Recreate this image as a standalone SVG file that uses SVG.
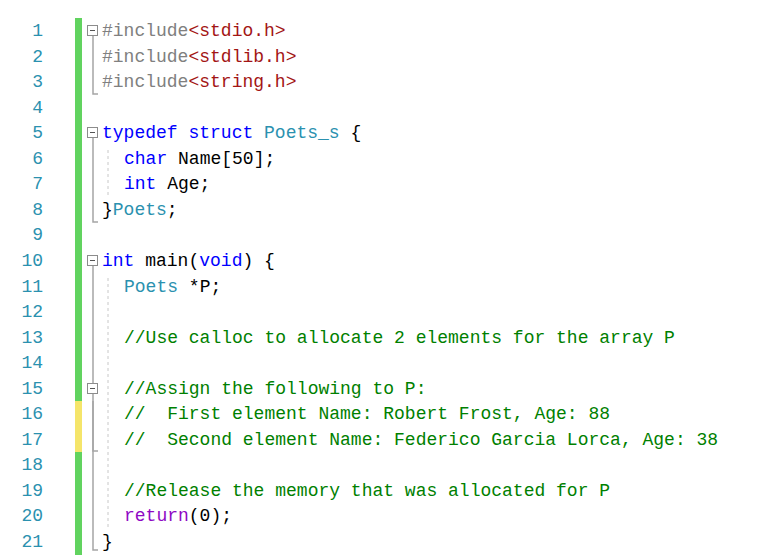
<svg xmlns="http://www.w3.org/2000/svg" width="772" height="555" viewBox="0 0 772 555">
<style>
text{font-family:"Liberation Mono","DejaVu Sans Mono",monospace;font-size:18px;white-space:pre}
.n{fill:#2b91af;text-anchor:end}
.p{fill:#808080}.s{fill:#a31515}.k{fill:#0000ff}.t{fill:#2b91af}.c{fill:#008000}.r{fill:#8f08c4}.x{fill:#000}
.g{stroke:#a5a5a5;stroke-width:1.5;fill:none}
.d{stroke:#c8c8c8;stroke-width:1;stroke-dasharray:3,3;fill:none}
.b{fill:#fff;stroke:#8c8c8c;stroke-width:1}
</style>
<rect width="772" height="555" fill="#fff"/>
<g id="gutter">
<rect x="75" y="18" width="7" height="537" fill="#61d35f"/>
<rect x="75" y="401" width="7" height="51" fill="#f5e56a"/>
</g>
<g id="linenumbers">
<text class="n" x="43" y="36">1</text><text class="n" x="43" y="62">2</text><text class="n" x="43" y="87">3</text><text class="n" x="43" y="113">4</text><text class="n" x="43" y="138">5</text><text class="n" x="43" y="164">6</text><text class="n" x="43" y="189">7</text><text class="n" x="43" y="215">8</text><text class="n" x="43" y="240">9</text><text class="n" x="43" y="266">10</text><text class="n" x="43" y="292">11</text><text class="n" x="43" y="317">12</text><text class="n" x="43" y="343">13</text><text class="n" x="43" y="368">14</text><text class="n" x="43" y="394">15</text><text class="n" x="43" y="419">16</text><text class="n" x="43" y="445">17</text><text class="n" x="43" y="470">18</text><text class="n" x="43" y="496">19</text><text class="n" x="43" y="521">20</text><text class="n" x="43" y="547">21</text>
</g>
<g id="folding">
<path class="g" d="M93,36 V94 H98"/>
<path class="g" d="M93,138 V222 H98"/>
<path class="g" d="M93,266 V550 H98"/>
<path class="g" d="M93,401 V451 H98"/>
<path class="d" d="M108,150 V198"/>
<path class="d" d="M108,278 V530"/>
<rect class="b" x="87.5" y="25.5" width="10" height="10"/><path d="M90,30.5H95" stroke="#555"/>
<rect class="b" x="87.5" y="127.5" width="10" height="10"/><path d="M90,132.5H95" stroke="#555"/>
<rect class="b" x="87.5" y="255.5" width="10" height="10"/><path d="M90,260.5H95" stroke="#555"/>
<rect class="b" x="87.5" y="383.5" width="10" height="10"/><path d="M90,388.5H95" stroke="#555"/>
</g>
<g id="code">
<text x="102" y="36"><tspan class="p">#include</tspan><tspan class="s">&lt;stdio.h&gt;</tspan></text>
<text x="102" y="62"><tspan class="p">#include</tspan><tspan class="s">&lt;stdlib.h&gt;</tspan></text>
<text x="102" y="87"><tspan class="p">#include</tspan><tspan class="s">&lt;string.h&gt;</tspan></text>
<text x="102" y="138"><tspan class="k">typedef</tspan> <tspan class="k">struct</tspan> <tspan class="t">Poets_s</tspan> <tspan class="x">{</tspan></text>
<text x="124" y="164"><tspan class="k">char</tspan> <tspan class="x">Name[50];</tspan></text>
<text x="124" y="189"><tspan class="k">int</tspan> <tspan class="x">Age;</tspan></text>
<text x="102" y="215"><tspan class="x">}</tspan><tspan class="t">Poets</tspan><tspan class="x">;</tspan></text>
<text x="102" y="266"><tspan class="k">int</tspan> <tspan class="x">main(</tspan><tspan class="k">void</tspan><tspan class="x">) {</tspan></text>
<text x="124" y="292"><tspan class="t">Poets</tspan> <tspan class="x">*P;</tspan></text>
<text class="c" x="124" y="343">//Use calloc to allocate 2 elements for the array P</text>
<text class="c" x="124" y="394">//Assign the following to P:</text>
<text class="c" x="124" y="419">//  First element Name: Robert Frost, Age: 88</text>
<text class="c" x="124" y="445">//  Second element Name: Federico Garcia Lorca, Age: 38</text>
<text class="c" x="124" y="496">//Release the memory that was allocated for P</text>
<text x="124" y="521"><tspan class="r">return</tspan><tspan class="x">(0);</tspan></text>
<text class="x" x="102" y="547">}</text>
</g>
</svg>
